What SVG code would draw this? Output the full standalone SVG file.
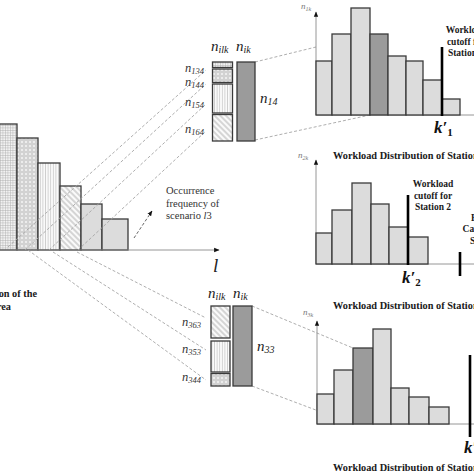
<svg xmlns="http://www.w3.org/2000/svg" width="474" height="474" viewBox="0 0 474 474">
<style>
.bar{stroke:#3a3a3a;stroke-width:1.3}
.lt{fill:#dcdcdc}
.dk{fill:#9b9b9b}
.ax{stroke:#8a8a8a;stroke-width:0.9;fill:none}
.dash{stroke:#a5a5a5;stroke-width:0.9;stroke-dasharray:3 2;fill:none}
.cut{stroke:#000;stroke-width:2.6}
.ttl{font-family:"Liberation Serif",serif;font-weight:bold;font-size:10.3px;fill:#1a1a1a}
.cl{font-family:"Liberation Serif",serif;font-weight:bold;font-size:9.5px;fill:#1a1a1a;text-anchor:middle}
.kl{font-family:"Liberation Serif",serif;font-weight:bold;font-style:italic;font-size:17px;fill:#111}
.axl{font-family:"Liberation Serif",serif;font-style:italic;font-size:9px;fill:#777}
.nl{font-family:"Liberation Serif",serif;font-style:italic;font-size:15px;fill:#222}
.ns{font-family:"Liberation Serif",serif;font-style:italic;font-size:12.5px;fill:#333}
.tx{font-family:"Liberation Serif",serif;font-size:10.5px;fill:#333}
</style>
<defs>
<pattern id="pGrid" width="2.5" height="2.5" patternUnits="userSpaceOnUse">
<rect width="2.5" height="2.5" fill="#f2f2f2"/>
<path d="M0 0.3H2.5M0.3 0V2.5" stroke="#aaaaaa" stroke-width="0.5"/>
</pattern>
<pattern id="pDots" width="4" height="4" patternUnits="userSpaceOnUse">
<rect width="4" height="4" fill="#d2d2d2"/>
<circle cx="2" cy="2" r="1" fill="#f5f5f5"/>
</pattern>
<pattern id="pVert" width="2.6" height="4" patternUnits="userSpaceOnUse">
<rect width="2.6" height="4" fill="#fafafa"/>
<path d="M1.3 0V4" stroke="#b5b5b5" stroke-width="0.6"/>
</pattern>
<pattern id="pDiag" width="4" height="4" patternUnits="userSpaceOnUse" patternTransform="rotate(-45)">
<rect width="4" height="4" fill="#fafafa"/>
<path d="M2 0V4" stroke="#a8a8a8" stroke-width="0.9"/>
</pattern>
<marker id="ah" viewBox="0 0 10 10" refX="9" refY="5" markerWidth="6" markerHeight="6" orient="auto">
<path d="M0 1L10 5L0 9Z" fill="#111"/>
</marker>
</defs>

<g id="left-histogram">
<rect class="bar" x="-2" y="124" width="19" height="126" fill="url(#pGrid)"/>
<rect class="bar" x="17" y="138" width="21" height="112" fill="url(#pDots)"/>
<rect class="bar" x="38" y="163" width="22" height="87" fill="url(#pVert)"/>
<rect class="bar" x="60" y="186" width="21" height="64" fill="url(#pDiag)"/>
<rect class="bar lt" x="81" y="204" width="21" height="46"/>
<rect class="bar lt" x="102" y="219" width="26" height="31"/>
<line class="ax" x1="0" y1="250" x2="219" y2="250" marker-end="url(#ah)"/>
<text x="213" y="272" font-family="Liberation Serif, serif" font-style="italic" font-size="19" fill="#222">l</text>
<text class="ttl" x="37" y="297" text-anchor="end">Distribution of the</text>
<text class="ttl" x="11" y="310" text-anchor="end">Area</text>
</g>

<g id="connectors">
<line class="dash" x1="8" y1="247" x2="206" y2="70"/>
<line class="dash" x1="25" y1="250" x2="206" y2="84"/>
<line class="dash" x1="49" y1="250" x2="206" y2="104"/>
<line class="dash" x1="78" y1="250" x2="206" y2="131"/>
<line class="dash" x1="77" y1="252" x2="206" y2="318"/>
<line class="dash" x1="53" y1="252" x2="206" y2="350"/>
<line class="dash" x1="28" y1="250" x2="206" y2="380"/>
<line class="dash" x1="255" y1="62" x2="316" y2="47"/>
<line class="dash" x1="255" y1="140" x2="370" y2="115"/>
<line class="dash" x1="252" y1="306" x2="353" y2="348"/>
<line class="dash" x1="252" y1="386" x2="353" y2="424"/>
<line x1="134" y1="238" x2="152" y2="211" stroke="#555" stroke-width="0.9" stroke-dasharray="3 2" marker-end="url(#ah)"/>
</g>

<g id="occurrence-label">
<text class="tx" x="166" y="194">Occurrence</text>
<text class="tx" x="166" y="207">frequency of</text>
<text class="tx" x="166" y="219">scenario <tspan font-style="italic">l</tspan>3</text>
</g>

<g id="stack-top">
<text class="nl" x="211" y="51">n<tspan font-size="10" dy="2">ilk</tspan></text>
<text class="nl" x="236" y="51">n<tspan font-size="10" dy="2">ik</tspan></text>
<rect class="bar" x="212.5" y="62" width="20" height="5.5" fill="url(#pGrid)"/>
<rect class="bar" x="212.5" y="69" width="20" height="13.5" fill="url(#pDots)"/>
<rect class="bar" x="212.5" y="84" width="20" height="29" fill="url(#pVert)"/>
<rect class="bar" x="212.5" y="114.5" width="20" height="26.5" fill="url(#pDiag)"/>
<rect class="bar dk" x="237" y="62" width="18" height="79"/>
<text class="ns" x="185" y="72">n<tspan font-size="8.5" dy="2">134</tspan></text>
<text class="ns" x="185" y="86">n<tspan font-size="8.5" dy="2">144</tspan></text>
<text class="ns" x="185" y="106">n<tspan font-size="8.5" dy="2">154</tspan></text>
<text class="ns" x="185" y="133">n<tspan font-size="8.5" dy="2">164</tspan></text>
<text class="nl" x="260" y="103">n<tspan font-size="10" dy="2">14</tspan></text>
</g>

<g id="stack-bottom">
<text class="nl" x="208" y="298">n<tspan font-size="10" dy="2">ilk</tspan></text>
<text class="nl" x="233" y="298">n<tspan font-size="10" dy="2">ik</tspan></text>
<rect class="bar" x="211" y="306" width="19" height="32" fill="url(#pDiag)"/>
<rect class="bar" x="211" y="341" width="19" height="31" fill="url(#pVert)"/>
<rect class="bar" x="211" y="373.5" width="19" height="12.5" fill="url(#pDots)"/>
<rect class="bar dk" x="233" y="306" width="19" height="80"/>
<text class="ns" x="182" y="326">n<tspan font-size="8.5" dy="2">363</tspan></text>
<text class="ns" x="182" y="353">n<tspan font-size="8.5" dy="2">353</tspan></text>
<text class="ns" x="182" y="381">n<tspan font-size="8.5" dy="2">344</tspan></text>
<text class="nl" x="257" y="351">n<tspan font-size="10" dy="2">33</tspan></text>
</g>

<g id="station1-histogram">
<line class="ax" x1="316" y1="115" x2="316" y2="12" marker-end="url(#ah)"/>
<line class="ax" x1="316" y1="115" x2="474" y2="115"/>
<text class="axl" x="301" y="9">n<tspan font-size="6" dy="1.5">1k</tspan></text>
<rect class="bar lt" x="316" y="61" width="16" height="54"/>
<rect class="bar lt" x="332" y="34" width="19" height="81"/>
<rect class="bar lt" x="351" y="8" width="19" height="107"/>
<rect class="bar dk" x="370" y="34" width="18" height="81"/>
<rect class="bar lt" x="388" y="56" width="18" height="59"/>
<rect class="bar lt" x="406" y="61" width="17" height="54"/>
<rect class="bar lt" x="423" y="80" width="19" height="35"/>
<rect class="bar lt" x="442" y="99" width="18" height="16"/>
<line class="cut" x1="442" y1="47" x2="442" y2="116"/>
<text class="cl" x="466" y="33">Workload</text>
<text class="cl" x="466" y="45">cutoff for</text>
<text class="cl" x="466" y="56">Station 1</text>
<text class="kl" x="434" y="133">k′<tspan font-size="11" font-style="normal" dy="3">1</tspan></text>
</g>

<g id="station2-histogram">
<text class="ttl" x="333" y="159">Workload Distribution of Station 2</text>
<line class="ax" x1="316" y1="264" x2="316" y2="160" marker-end="url(#ah)"/>
<line class="ax" x1="316" y1="264" x2="474" y2="264"/>
<text class="axl" x="298" y="158">n<tspan font-size="6" dy="1.5">2k</tspan></text>
<rect class="bar lt" x="316" y="233" width="16" height="31"/>
<rect class="bar lt" x="332" y="210" width="20" height="54"/>
<rect class="bar lt" x="352" y="183" width="19" height="81"/>
<rect class="bar lt" x="371" y="204" width="18" height="60"/>
<rect class="bar lt" x="389" y="227" width="19" height="37"/>
<rect class="bar lt" x="408" y="237" width="20" height="27"/>
<line class="cut" x1="408" y1="195" x2="408" y2="265"/>
<text class="cl" x="433" y="187">Workload</text>
<text class="cl" x="433" y="199">cutoff for</text>
<text class="cl" x="433" y="210">Station 2</text>
<text class="kl" x="402" y="283">k′<tspan font-size="11" font-style="normal" dy="3">2</tspan></text>
<line class="cut" x1="460" y1="252" x2="460" y2="276"/>
<text class="cl" x="488" y="221">Physical</text>
<text class="cl" x="488" y="232">Capacity for</text>
<text class="cl" x="488" y="244">Station 2</text>
</g>

<g id="station3-histogram">
<text class="ttl" x="333" y="309">Workload Distribution of Station 3</text>
<line class="ax" x1="317" y1="424" x2="317" y2="321" marker-end="url(#ah)"/>
<line class="ax" x1="317" y1="424" x2="474" y2="424"/>
<text class="axl" x="303" y="315">n<tspan font-size="6" dy="1.5">3k</tspan></text>
<rect class="bar lt" x="317" y="394" width="17" height="30"/>
<rect class="bar lt" x="334" y="370" width="19" height="54"/>
<rect class="bar dk" x="353" y="348" width="20" height="76"/>
<rect class="bar lt" x="373" y="329" width="18" height="95"/>
<rect class="bar lt" x="391" y="388" width="18" height="36"/>
<rect class="bar lt" x="409" y="397" width="20" height="27"/>
<rect class="bar lt" x="429" y="407" width="20" height="17"/>
<line class="cut" x1="470" y1="355" x2="470" y2="437"/>
<text class="kl" x="464" y="453">k′<tspan font-size="11" font-style="normal" dy="3">3</tspan></text>
<text class="ttl" x="333" y="471">Workload Distribution of Station 4</text>
</g>
</svg>
